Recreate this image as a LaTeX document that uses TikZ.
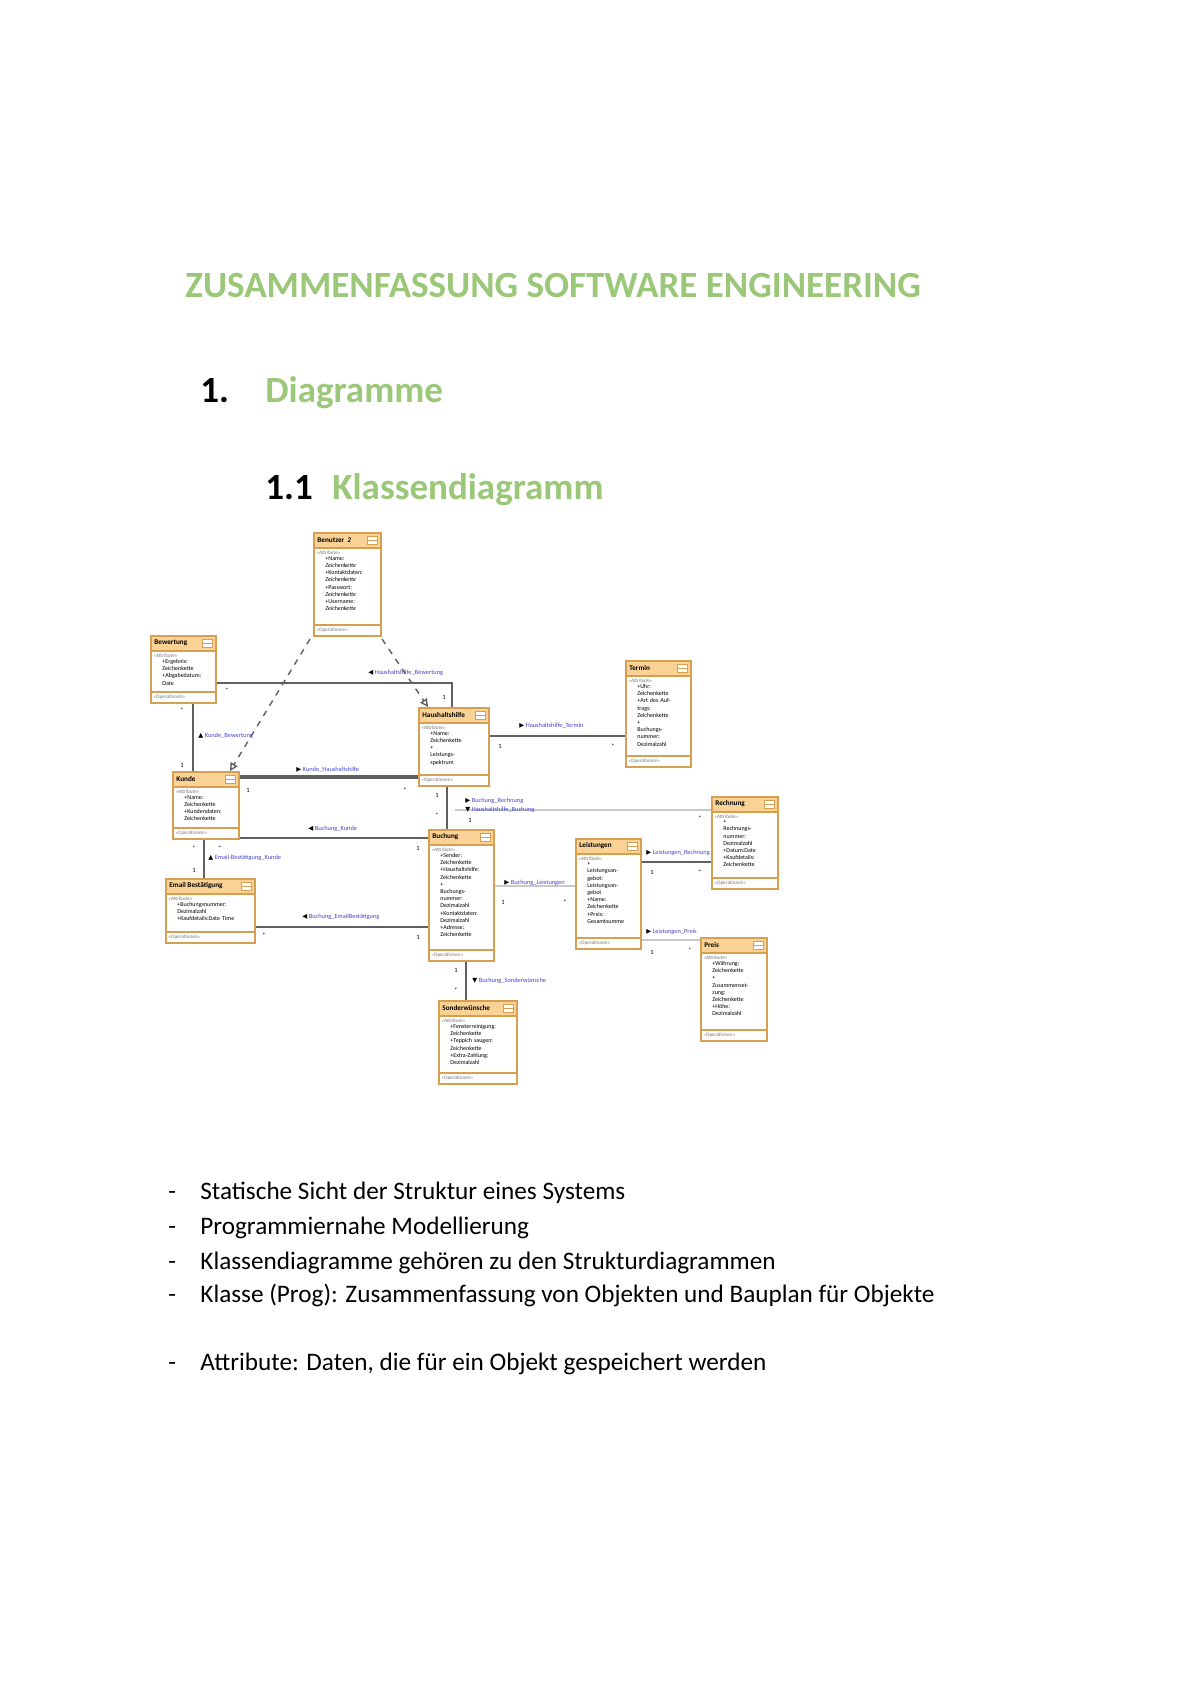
\documentclass[tikz,border=0pt]{standalone}
\usepackage{fontspec}
\setmainfont{Carlito}
\newfontfamily\symf{DejaVu Sans}
\usetikzlibrary{arrows.meta,calc}
\definecolor{hgreen}{RGB}{155,200,120}
\definecolor{uorange}{RGB}{214,160,80}
\definecolor{uhead}{RGB}{250,210,150}
\definecolor{ublue}{RGB}{70,70,200}
\definecolor{ugray}{RGB}{120,120,120}
\tikzset{
 cls/.style={draw=uorange,line width=1pt,inner sep=0pt},
 assoc/.style={draw=ugray!80!black,line width=1.1pt},
 lassoc/.style={draw=ugray!40,line width=0.7pt},
 gen/.style={draw=ugray!80!black,dashed,line width=0.7pt,-{Triangle[open,length=4pt,width=4pt]}},
 lbl/.style={font=\fontsize{3.2}{3.6}\selectfont,text=ublue,inner sep=0pt},
 mult/.style={font=\fontsize{3.2}{3.6}\selectfont,inner sep=0pt},
 heading/.style={anchor=base west,inner sep=0pt,font=\fontsize{18.5}{20}\selectfont\bfseries,text=hgreen},
 bul/.style={anchor=base west,inner sep=0pt,font=\fontsize{12.6}{14}\selectfont}
}
\newcommand\ucls[7]{%
 \pgfmathsetmacro\uw{(#4-#2)*0.5}\pgfmathsetmacro\uh{(#5-#3)*0.5}%
 \fill[white] (#2,#3) rectangle (#4,#5);
 \fill[uhead] (#2,#3) rectangle (#4,#3+16);
 \draw[uorange,line width=0.8pt] (#2,#3+16) -- (#4,#3+16) (#2,#5-10) -- (#4,#5-10);
 \fill[white] (#4-13,#3+4) rectangle (#4-3,#3+12);
 \draw[uorange,line width=0.5pt] (#4-13,#3+4) rectangle (#4-3,#3+12) (#4-13,#3+8) -- (#4-3,#3+8);
 \node[anchor=west,inner sep=0pt,font=\fontsize{3.6}{4}\selectfont\bfseries] at (#2+4,#3+8) {#6};
 \node[anchor=north west,inner sep=0pt,font=\fontsize{2.6}{3}\selectfont,text=ugray] at (#2+3,#3+18) {«Attribute»};
 \node[anchor=north west,inner sep=0pt,text width=(#4-#2-16)*0.5pt,font=\fontsize{3}{3.6}\selectfont,align=left] at (#2+12,#3+24) {#7};
 \node[anchor=west,inner sep=0pt,font=\fontsize{2.6}{3}\selectfont,text=ugray] at (#2+3,#5-5) {«Operationen»};
 \node[cls,minimum width=\uw pt,minimum height=\uh pt,anchor=north west] (#1) at (#2,#3) {};
}
\begin{document}
\begin{tikzpicture}[x=0.5pt,y=-0.5pt]
\useasboundingbox[fill=white] (0,0) rectangle (1200,1698);
% headings
\node[heading] (title) at (185,297) {ZUSAMMENFASSUNG SOFTWARE ENGINEERING};
\node[heading,text=black] (n1) at (200,402) {1.};
\node[heading] (h1) at (265,402) {Diagramme};
\node[heading,text=black] (n11) at (265,499) {1.1};
\node[heading] (h11) at (332,499) {Klassendiagramm};
% connectors first
\draw[assoc] (202,683) -- (452,683) -- (452,707);
\draw[assoc] (193,702) -- (193,771);
\draw[assoc,line width=1.8pt] (238,777) -- (418,777);
\draw[assoc] (488,736) -- (625,736);
\draw[assoc] (238,838) -- (428,838);
\draw[assoc] (447,785) -- (447,829);
\draw[lassoc] (455,810) -- (711,810);
\draw[assoc] (204,838) -- (204,878);
\draw[assoc] (254,927) -- (428,927);
\draw[lassoc] (493,886) -- (575,886);
\draw[assoc] (640,862) -- (711,862);
\draw[lassoc] (640,940) -- (700,940);
\draw[assoc] (466,960) -- (466,1000);
% classes
\ucls{benutzer}{313}{532}{380}{635}{Benutzer \ \textit{2}}{+Name:\\ \textit{Zeichenkette}\\ +Kontaktdaten:\\ \textit{Zeichenkette}\\ +Passwort:\\ \textit{Zeichenkette}\\ +Username:\\ \textit{Zeichenkette}}
\ucls{bewertung}{150}{635}{215}{702}{Bewertung}{+Ergebnis:\\ Zeichenkette\\ +Abgabedatum:\\ Date}
\ucls{hh}{418}{707}{488}{785}{Haushaltshilfe}{+Name:\\ Zeichenkette\\ +\\ Leistungs-\\ spektrum}
\ucls{termin}{625}{660}{690}{766}{Termin}{+Uhr:\\ Zeichenkette\\ +Art des Auf-\\ trags:\\ Zeichenkette\\ +\\ Buchungs-\\ nummer:\\ Dezimalzahl}
\ucls{kunde}{172}{771}{238}{838}{Kunde}{+Name:\\ Zeichenkette\\ +Kundendaten:\\ Zeichenkette}
\ucls{rechnung}{711}{796}{777}{888}{Rechnung}{+\\ Rechnungs-\\ nummer:\\ Dezimalzahl\\ +Datum:Date\\ +Kaufdetails:\\ Zeichenkette}
\ucls{buchung}{428}{829}{493}{960}{Buchung}{+Sender:\\ Zeichenkette\\ +Haushaltshilfe:\\ Zeichenkette\\ +\\ Buchungs-\\ nummer:\\ Dezimalzahl\\ +Kontaktdaten:\\ Dezimalzahl\\ +Adresse:\\ Zeichenkette}
\ucls{leist}{575}{838}{640}{948}{Leistungen}{+\\ Leistungsan-\\ gebot:\\ Leistungsan-\\ gebot\\ +Name:\\ Zeichenkette\\ +Preis:\\ Gesamtsumme}
\ucls{email}{165}{878}{254}{942}{Email Bestätigung}{+Buchungsnummer:\\ Dezimalzahl\\ +Kaufdetails:Date Time}
\ucls{preis}{700}{937}{766}{1040}{Preis}{+Währung:\\ Zeichenkette\\ +\\ Zusammenset-\\ zung:\\ Zeichenkette\\ +Höhe:\\ Dezimalzahl}
\ucls{sonder}{438}{1000}{516}{1083}{Sonderwünsche}{+Fensterreinigung:\\ Zeichenkette\\ +Teppich saugen:\\ Zeichenkette\\ +Extra-Zahlung:\\ Dezimalzahl}
% generalizations
\draw[gen] ([xshift=-1.5pt,yshift=-1pt]benutzer.south west) -- ([xshift=-5pt]kunde.north east);
\draw[gen] ([yshift=-1pt]benutzer.south east) -- ([xshift=5pt]hh.north west);
% labels
\node[lbl,anchor=west] at (368,673) {{\symf\color{black}◀} Haushaltshilfe\_Bewertung};
\node[lbl,anchor=west] at (198,736) {{\symf\color{black}▲} Kunde\_Bewertung};
\node[lbl,anchor=west] at (296,770) {{\symf\color{black}▶} Kunde\_Haushaltshilfe};
\node[lbl,anchor=west] at (519,726) {{\symf\color{black}▶} Haushaltshilfe\_Termin};
\node[lbl,anchor=west] at (308,829) {{\symf\color{black}◀} Buchung\_Kunde};
\node[lbl,anchor=west] at (465,801) {{\symf\color{black}▶} Buchung\_Rechnung};
\node[lbl,anchor=west] at (465,810) {{\symf\color{black}▼} Haushaltshilfe\_Buchung};
\node[lbl,anchor=west] at (208,858) {{\symf\color{black}▲} Email-Bestätigung\_Kunde};
\node[lbl,anchor=west] at (302,917) {{\symf\color{black}◀} Buchung\_EmailBestätigung};
\node[lbl,anchor=west] at (504,883) {{\symf\color{black}▶} Buchung\_Leistungen};
\node[lbl,anchor=west] at (646,853) {{\symf\color{black}▶} Leistungen\_Rechnung};
\node[lbl,anchor=west] at (646,932) {{\symf\color{black}▶} Leistungen\_Preis};
\node[lbl,anchor=west] at (472,981) {{\symf\color{black}▼} Buchung\_Sonderwünsche};
% multiplicities
\foreach \x/\y/\t in {227/690/*,444/697/1,182/710/*,182/765/1,248/790/1,405/790/*,500/746/1,613/746/*,
 220/848/*,418/848/1,194/848/*,194/870/1,264/935/*,418/937/1,437/795/1,437/815/*,470/820/1,700/818/*,
 503/902/1,565/902/*,652/872/1,700/872/*,652/952/1,690/950/*,456/970/1,456/990/*}
 \node[mult] at (\x,\y) {\t};
% bullets
\foreach \y/\t in {1199/Statische Sicht der Struktur eines Systems,1234/Programmiernahe Modellierung,1269/Klassendiagramme gehören zu den Strukturdiagrammen,1302/{Klasse (Prog): Zusammenfassung von Objekten und Bauplan für Objekte},1370/{Attribute: Daten, die für ein Objekt gespeichert werden}}{
 \node[bul] at (168,\y) {-};
 \node[bul] at (200,\y) {\t};}
\end{tikzpicture}
\end{document}
